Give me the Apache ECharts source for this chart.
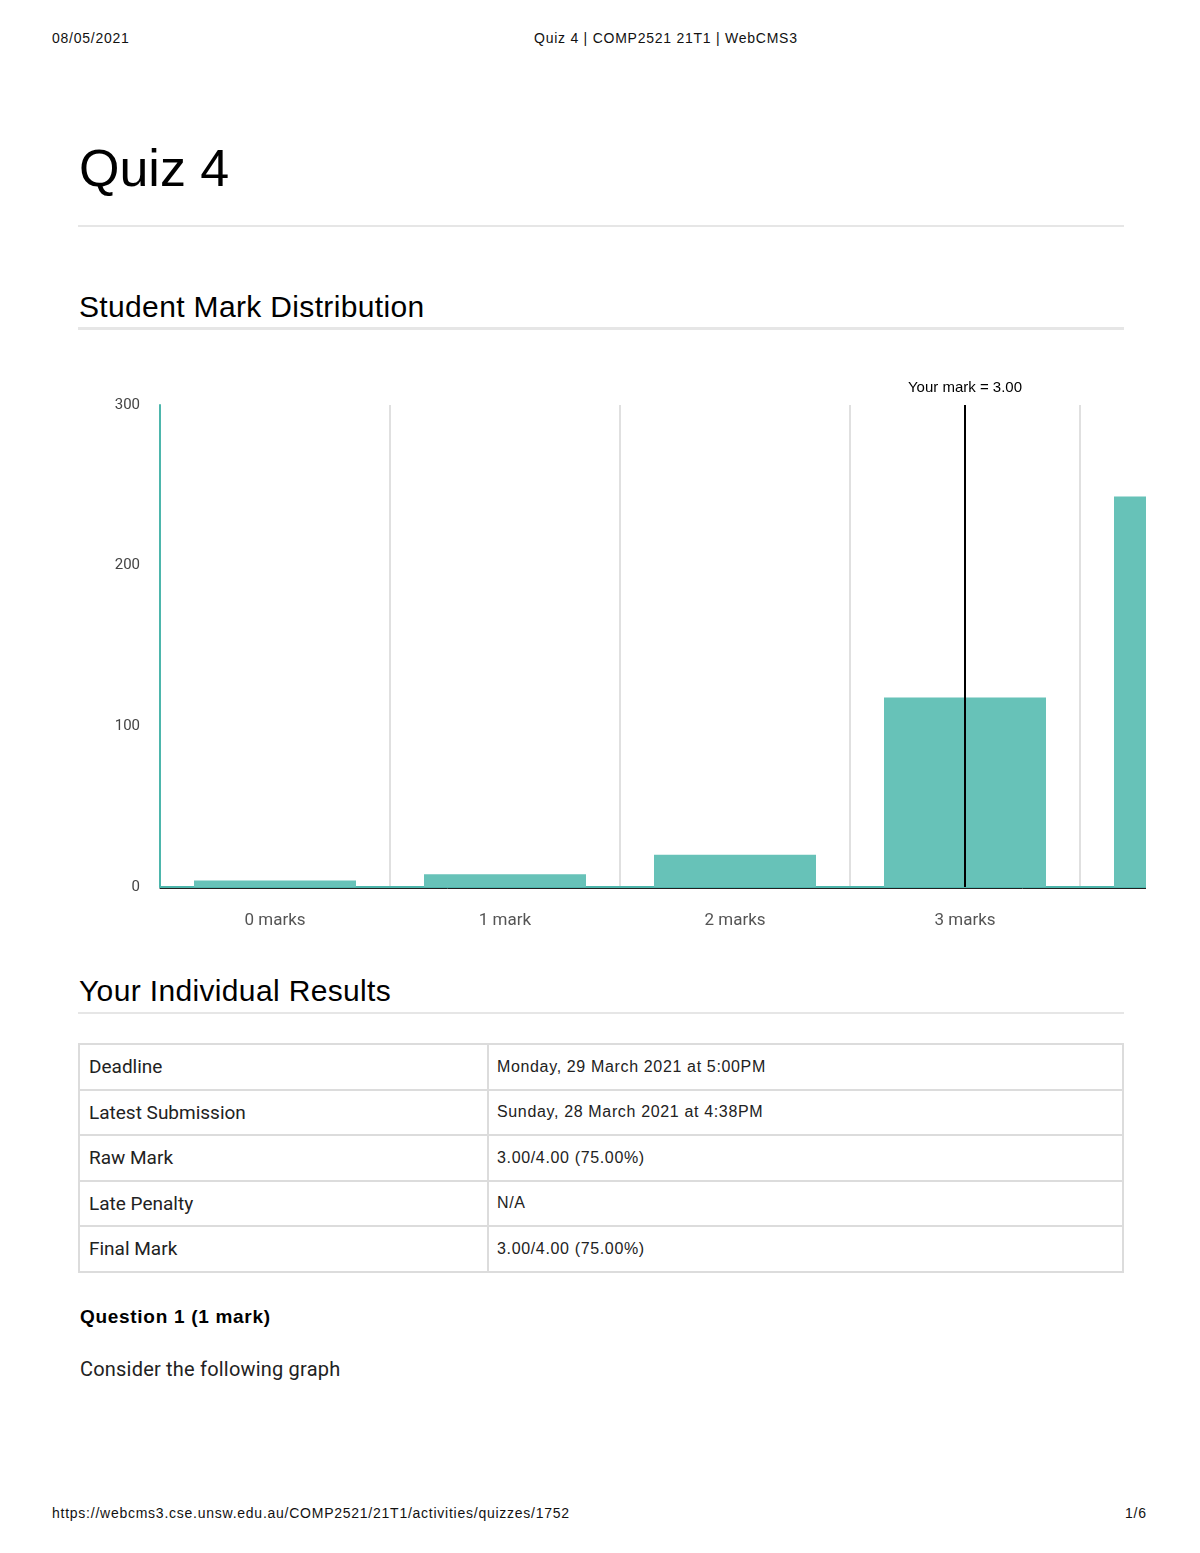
<!DOCTYPE html>
<html>
<head>
<meta charset="utf-8">
<script src="https://cdn.jsdelivr.net/npm/echarts@6/dist/echarts.min.js"></script>
<style>
  html, body { margin: 0; padding: 0; background: #fff; }
  body { width: 1200px; height: 1553px; position: relative; font-family: "Liberation Sans", Arial, sans-serif; color: #000; overflow: hidden; }
  .abs { position: absolute; white-space: nowrap; }
  .hdr { font-size: 14px; color: #111; letter-spacing: 0.75px; }
  .rule { position: absolute; left: 78px; width: 1046px; background: #e6e6e6; }
  h1 { position: absolute; left: 79px; top: 142px; margin: 0; font-size: 52px; font-weight: normal; line-height: 1; }
  h2 { position: absolute; left: 79px; margin: 0; font-size: 30px; font-weight: normal; line-height: 1; letter-spacing: 0.35px; }
  .chart-clip { position: absolute; left: 0; top: 370px; width: 1146px; height: 580px; overflow: hidden; }
  #chart { width: 1330px; height: 580px; }
  table { position: absolute; left: 78px; top: 1043px; width: 1046px; border-collapse: collapse; }
  td { border: 2px solid #dcdcdc; height: 43.5px; padding: 0 0 0 9px; }
  td.k { width: 398px; font-family: Roboto, sans-serif; font-size: 19px; color: #222; }
  td.v { font-size: 16px; color: #222; letter-spacing: 0.65px; padding-left: 8px; }
</style>
</head>
<body>
  <div class="abs hdr" style="left:52px;top:30px;">08/05/2021</div>
  <div class="abs hdr" style="left:534px;top:30px;">Quiz 4 | COMP2521 21T1 | WebCMS3</div>

  <h1>Quiz 4</h1>
  <div class="rule" style="top:225px;height:2px;"></div>

  <h2 style="top:292px;">Student Mark Distribution</h2>
  <div class="rule" style="top:327px;height:3px;"></div>

  <div class="chart-clip"><div id="chart"></div></div>

  <h2 style="top:976px;">Your Individual Results</h2>
  <div class="rule" style="top:1012px;height:2px;"></div>

  <table>
    <tr><td class="k">Deadline</td><td class="v">Monday, 29 March 2021 at 5:00PM</td></tr>
    <tr><td class="k">Latest Submission</td><td class="v">Sunday, 28 March 2021 at 4:38PM</td></tr>
    <tr><td class="k">Raw Mark</td><td class="v">3.00/4.00 (75.00%)</td></tr>
    <tr><td class="k">Late Penalty</td><td class="v">N/A</td></tr>
    <tr><td class="k">Final Mark</td><td class="v">3.00/4.00 (75.00%)</td></tr>
  </table>

  <div class="abs" style="left:80px;top:1306px;font-size:19px;font-weight:bold;letter-spacing:0.7px;">Question 1 (1 mark)</div>
  <div class="abs" style="left:80px;top:1357px;font-family:Roboto, sans-serif;font-size:20px;color:#222;letter-spacing:0.2px;">Consider the following graph</div>

  <div class="abs hdr" style="left:52px;top:1505px;">https://webcms3.cse.unsw.edu.au/COMP2521/21T1/activities/quizzes/1752</div>
  <div class="abs hdr" style="left:1125px;top:1505px;">1/6</div>

<script>
const categories = ['0 marks', '1 mark', '2 marks', '3 marks', '4 marks']
const counts = [4, 8, 20, 118, 243]
const yTicks = { min: 0, max: 300, interval: 100 }
const yourMark = '3 marks'
const yourMarkLabel = 'Your mark = 3.00'

const chart = echarts.init(document.getElementById('chart'), null, { renderer: 'canvas' })
chart.setOption({
  animation: false,
  grid: { left: 160, top: 35, width: 1150, height: 482 },
  xAxis: [
    {
      type: 'category', data: categories, boundaryGap: true,
      axisLine: { lineStyle: { color: '#4db6ac', width: 2 } },
      axisTick: { show: false },
      axisLabel: { color: '#555', fontSize: 17, fontFamily: 'Roboto', margin: 25 },
      splitLine: { show: true, lineStyle: { color: '#e0e0e0', width: 2 } }
    },
    {
      type: 'category', data: categories, position: 'bottom', offset: 1,
      axisLine: { lineStyle: { color: '#222', width: 1 } },
      axisTick: { show: false }, axisLabel: { show: false }, splitLine: { show: false }
    }
  ],
  yAxis: {
    type: 'value', min: yTicks.min, max: yTicks.max, interval: yTicks.interval,
    axisLine: { show: true, lineStyle: { color: '#4db6ac', width: 2 } },
    axisTick: { show: false },
    axisLabel: { color: '#444', fontSize: 15, fontFamily: 'Roboto', margin: 20, padding: [5, 0, 0, 0] },
    splitLine: { show: false }
  },
  series: [{
    type: 'bar', data: counts, barWidth: 162, z: 3,
    itemStyle: { color: '#67c2b8' },
    markLine: {
      silent: true, symbol: 'none', z: 5,
      lineStyle: { color: '#000', width: 2, type: 'solid' },
      label: { show: true, position: 'end', formatter: yourMarkLabel, color: '#000', fontSize: 15, fontFamily: 'Liberation Sans', distance: 10 },
      data: [{ xAxis: yourMark }]
    }
  }]
})
</script>
</body>
</html>
